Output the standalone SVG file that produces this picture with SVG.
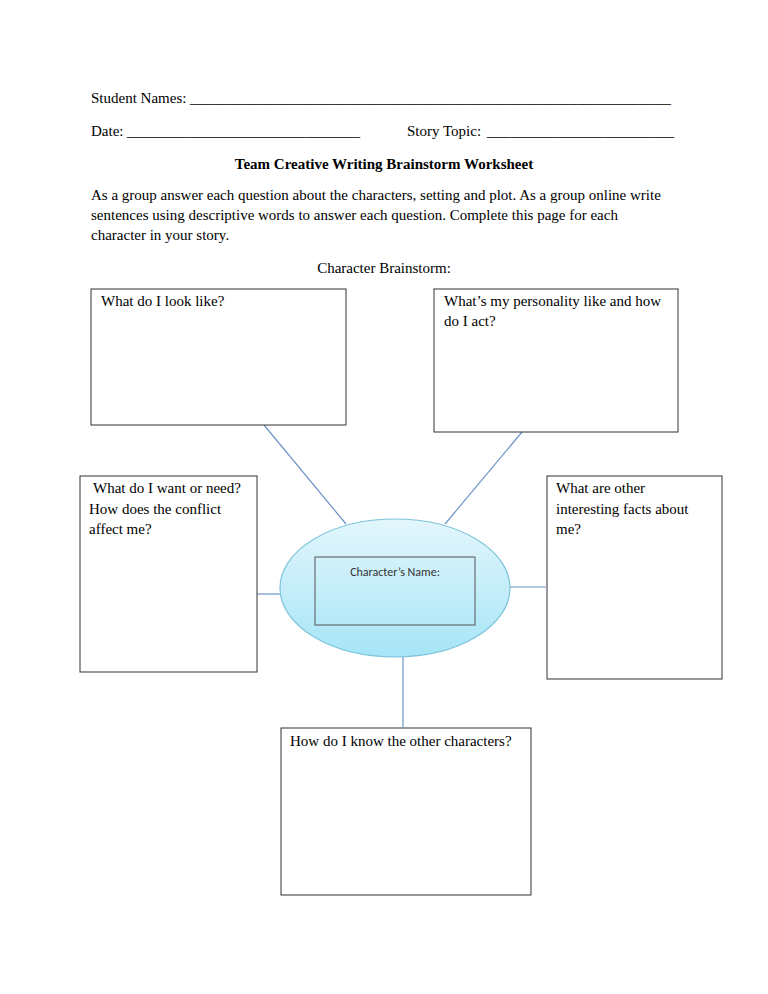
<svg xmlns="http://www.w3.org/2000/svg" width="768" height="994" viewBox="0 0 768 994">
<style>
text{font-family:"Liberation Serif",serif;font-size:15px;fill:#000}
.b{fill:#fff;stroke:#333;stroke-width:1}
.c{stroke:#6d93c9;stroke-width:1.2;fill:none}
</style>
<defs><linearGradient id="g" x1="0" y1="0" x2="0" y2="1"><stop offset="0" stop-color="#e3f6fc"/><stop offset="1" stop-color="#a6e5f7"/></linearGradient></defs>
<rect width="768" height="994" fill="#fff"/>
<text x="91" y="103">Student Names:</text>
<text x="190" y="103" textLength="481" lengthAdjust="spacingAndGlyphs">_____________________________________________________________</text>
<text x="91" y="136">Date:</text>
<text x="127" y="136" textLength="233" lengthAdjust="spacingAndGlyphs">______________________________</text>
<text x="407" y="136">Story Topic:</text>
<text x="487" y="136" textLength="187" lengthAdjust="spacingAndGlyphs">________________________</text>
<text x="384" y="169" text-anchor="middle" font-weight="bold">Team Creative Writing Brainstorm Worksheet</text>
<text x="91" y="200">As a group answer each question about the characters, setting and plot.  As a group online write</text>
<text x="91" y="220">sentences using descriptive words to answer each question.   Complete this page for each</text>
<text x="91" y="240">character in your story.</text>
<text x="384" y="273" text-anchor="middle">Character Brainstorm:</text>
<g id="connectors">
<line class="c" x1="264" y1="425" x2="346" y2="524"/>
<line class="c" x1="522" y1="432" x2="445" y2="524"/>
<line class="c" x1="257" y1="594" x2="281" y2="594"/>
<line class="c" x1="510" y1="587" x2="546" y2="587"/>
<line class="c" x1="403" y1="657" x2="403" y2="727"/>
</g>
<g id="n1"><rect class="b" x="91" y="289" width="255" height="136"/><text x="101" y="306">What do I look like?</text></g>
<g id="n2"><rect class="b" x="434" y="289" width="244" height="143"/><text x="444" y="306">What’s my personality like and how</text><text x="444" y="326">do I act?</text></g>
<g id="n3"><rect class="b" x="80" y="476" width="177" height="196"/><text x="93" y="493">What do I want or need?</text><text x="89" y="514">How does the conflict</text><text x="89" y="534">affect me?</text></g>
<g id="n4"><rect class="b" x="547" y="476" width="175" height="203"/><text x="556" y="493">What are other</text><text x="556" y="514">interesting facts about</text><text x="556" y="534">me?</text></g>
<g id="n5"><rect class="b" x="281" y="728" width="250" height="167"/><text x="290" y="746">How do I know the other characters?</text></g>
<g id="center"><ellipse cx="395" cy="588" rx="115" ry="69" fill="url(#g)" stroke="#7cc4dc" stroke-width="1.2"/>
<rect x="315" y="557" width="160" height="68" fill="none" stroke="#555" stroke-width="1"/>
<text x="395" y="576" text-anchor="middle" style="font-family:Carlito,'Open Sans',sans-serif;font-size:12px;fill:#333">Character’s Name:</text></g>
</svg>
